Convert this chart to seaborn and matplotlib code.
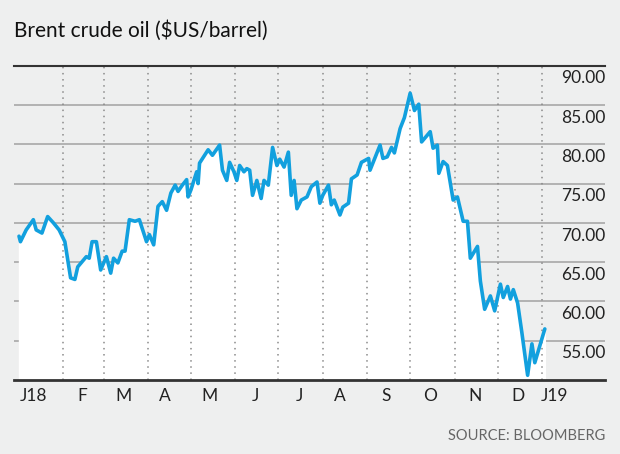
import matplotlib
matplotlib.use("Agg")
import matplotlib.pyplot as plt
import matplotlib.transforms as mtrans
import seaborn as sns
import pandas as pd

# day offset from 1 Jan 2018, Brent price
days = [0,1,5,10,12,16,20,24,28,32,36,39,41,47,49,51,54,57,61,64,66,69,72,74,77,81,84,89,91,94,
        97,100,103,106,109,111,114,117,118,120,124,125,126,132,135,140,
        142,145,147,150,152,154,157,159,161,163,166,169,171,174,177,180,182,185,188,190,192,194,
        197,201,204,208,210,212,216,218,220,224,226,230,232,236,239,244,245,252,254,257,260,262,266,269,
        273,276,279,281,287,289,292,293,296,299,303,306,310,313,315,320,322,325,329,332,336,338,341,
        343,345,348,351,355,358,360,367]
prices = [68.3,67.6,69.1,70.4,69.1,68.7,70.8,70.0,69.1,67.6,63.0,62.8,64.4,65.7,65.5,67.6,67.6,64.0,65.7,63.6,
          65.5,64.9,66.4,66.4,70.4,70.2,70.4,67.6,68.5,67.2,
          72.1,72.7,71.6,73.8,74.8,74.0,74.8,75.5,73.3,74.2,76.5,75.0,77.6,79.3,78.6,79.9,
          76.7,75.4,77.7,76.5,75.4,77.3,76.5,76.9,76.7,73.5,75.4,73.1,75.4,74.8,79.6,77.3,78.1,77.1,79.0,73.5,75.4,71.8,
          72.9,73.3,74.6,75.2,72.5,73.5,74.8,72.3,72.9,71.0,72.0,72.5,75.6,76.1,77.7,78.2,76.7,79.9,78.2,78.4,79.6,78.9,82.0,83.4,
          86.5,84.3,85.1,80.3,81.6,79.5,79.9,76.3,77.8,77.3,72.9,73.3,70.2,70.2,65.5,67.0,62.6,59.0,60.7,58.8,62.2,60.5,61.9,
          60.3,61.5,59.8,56.0,50.6,54.6,52.2,56.5]
month_labels = ["J18","F","M","A","M","J","J","A","S","O","N","D","J19"]
month_label_days = [10,44,73,102,133,165,196,224,256,287,318,348,374]
yticks = [55,60,65,70,75,80,85,90]

df = pd.DataFrame({"day": days, "price": prices})
BG = "#eeefef"
sns.set_style("white")
plt.rcParams['font.family'] = ['Lato', 'DejaVu Sans']
fig = plt.figure(figsize=(6.2, 4.54), dpi=100, facecolor=BG)
ax = fig.add_axes([14/620, 1-380/454, 591/620, 314.3/454])
ax.set_facecolor(BG)
ymin, ymax = 50.0, 90.0
ax.set_ylim(ymin, ymax)
ax.set_xlim(-3.5, 409)
ax.fill_between(df["day"], df["price"], ymin, color="white", zorder=1)
sns.lineplot(data=df, x="day", y="price", ax=ax, color="#12a0de", lw=2.6, zorder=3)
for y in yticks[:-1]:
    ax.axhline(y, color="#a8a8a8", lw=1.2, zorder=0.5)
month_starts = [(pd.Timestamp(2018, m, 1) - pd.Timestamp("2018-01-01")).days for m in range(2, 13)] + [365]
for ms in month_starts:
    ax.axvline(ms, color="#8a8a8a", lw=1.1, ls=(0, (1, 3)), zorder=2)
ax.set_yticks([])
tr = mtrans.blended_transform_factory(ax.transAxes, ax.transData)
for v in yticks:
    ax.text(1.0, v - 0.6, f"{v:.2f}", transform=tr, ha="right", va="top", fontsize=12.5, color="#222222")
ax.set_xticks(month_label_days)
ax.set_xticklabels(month_labels, fontsize=12.5, color="#222222")
ax.tick_params(axis="x", length=0, pad=6)
ax.set_xlabel(""); ax.set_ylabel("")
for s in ["left", "right"]:
    ax.spines[s].set_visible(False)
ax.spines["top"].set_color("#333333"); ax.spines["top"].set_linewidth(1.5)
ax.spines["bottom"].set_color("#333333"); ax.spines["bottom"].set_linewidth(2)
fig.text(14/620, 1-31/454, "Brent crude oil ($US/barrel)", fontsize=15, color="#111111", va="center")
fig.text(605/620, 1-436/454, "SOURCE: BLOOMBERG", fontsize=10.5, color="#666666", ha="right", va="center")
fig.savefig("out.png", dpi=100, facecolor=BG)
